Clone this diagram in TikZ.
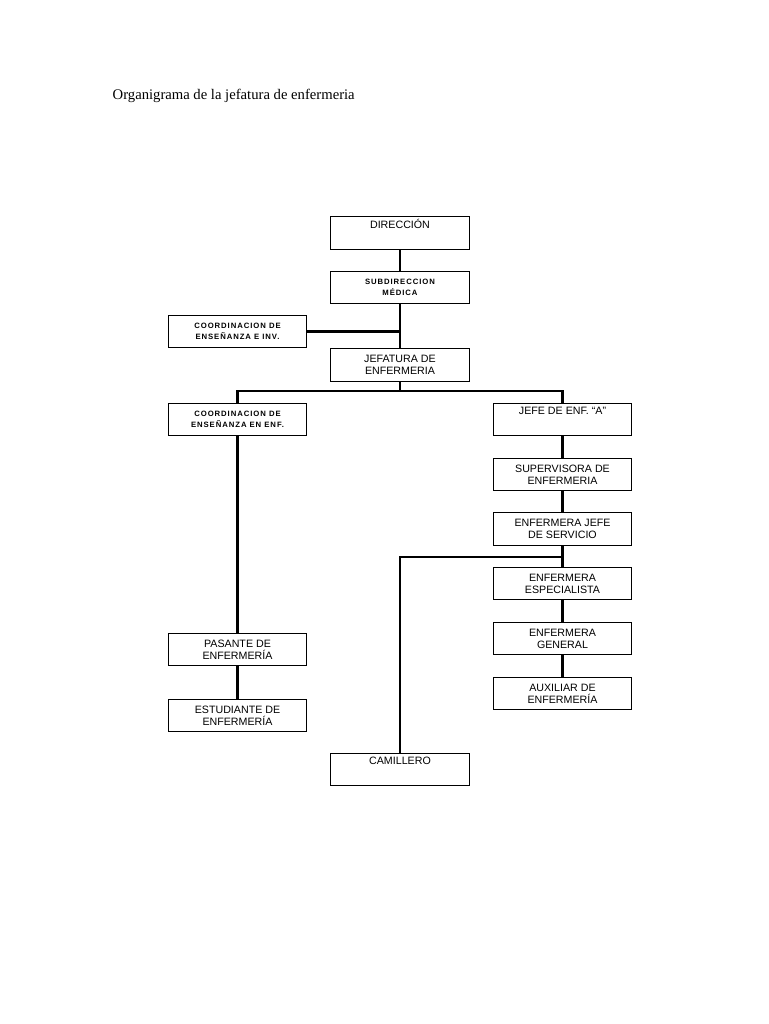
\documentclass[tikz,border=0pt]{standalone}
\usepackage{fontspec}
\setmainfont{Liberation Serif}
\setsansfont{Liberation Sans}
\usepackage{tikz}
\usetikzlibrary{positioning}

\tikzset{
  box/.style={draw, thick, minimum width=104pt, minimum height=24.5pt, inner sep=1pt,
    align=center, font=\sffamily\fontsize{8}{9}\selectfont},
  small/.style={font=\sffamily\bfseries\fontsize{5.8}{8}\selectfont\addfontfeature{LetterSpace=12}},
  link/.style={line width=2pt}
}

\begin{document}
\begin{tikzpicture}[x=0.75pt, y=-0.75pt]
    \useasboundingbox (0,0) rectangle (768,1024);
    \node [anchor=west, font=\fontsize{11}{13}\selectfont] (title) at (108,96) {Organigrama de la jefatura de enfermeria};

    % Top column
    \node [box] (dir) at (400,233) {DIRECCIÓN\\[4pt]~};
    \node [box, small] (sub) at (400,287.5) {SUBDIRECCION\\MÉDICA};
    \node [box, small] (cinv) at (237.5,331.5) {COORDINACION DE\\ENSEÑANZA E INV.};
    \node [box] (jef) at (400,365) {JEFATURA DE\\ENFERMERIA};

    % Left branch
    \node [box, small] (cenf) at (237.5,419.5) {COORDINACION DE\\ENSEÑANZA EN ENF.};
    \node [box] (pas) at (237.5,649.5) {PASANTE DE\\ENFERMERÍA};
    \node [box] (est) at (237.5,715.5) {ESTUDIANTE DE\\ENFERMERÍA};

    % Right branch
    \node [box] (jefa) at (562.5,419.5) {JEFE DE ENF. ``A''\\[4pt]~};
    \node [box] (sup) at (562.5,474.5) {SUPERVISORA DE\\ENFERMERIA};
    \node [box] (ejs) at (562.5,529) {ENFERMERA JEFE\\DE SERVICIO};
    \node [box] (esp) at (562.5,583.5) {ENFERMERA\\ESPECIALISTA};
    \node [box] (gen) at (562.5,638.5) {ENFERMERA\\GENERAL};
    \node [box] (aux) at (562.5,693.5) {AUXILIAR DE\\ENFERMERÍA};
    \node [box] (cam) at (400,769.5) {CAMILLERO\\[4pt]~};

    % Connections
    \coordinate (bar) at (400,391);
    \coordinate (split) at (400,557);
    \draw [link] (dir) -- (sub);
    \draw [link] (sub) -- (jef);
    \draw [link] (cinv.east) -- (cinv.east -| jef.north);
    \draw [link] (jef) -- (bar);
    \draw [link] (cenf.north) |- (bar) -| (jefa.north);
    \draw [link] (cenf) -- (pas);
    \draw [link] (pas) -- (est);
    \draw [link] (jefa) -- (sup);
    \draw [link] (sup) -- (ejs);
    \draw [link] (ejs) -- (esp);
    \draw [link] (esp) -- (gen);
    \draw [link] (gen) -- (aux);
    \draw [link] (cam.north) -- (split) -- (split -| esp.north);
\end{tikzpicture}
\end{document}
